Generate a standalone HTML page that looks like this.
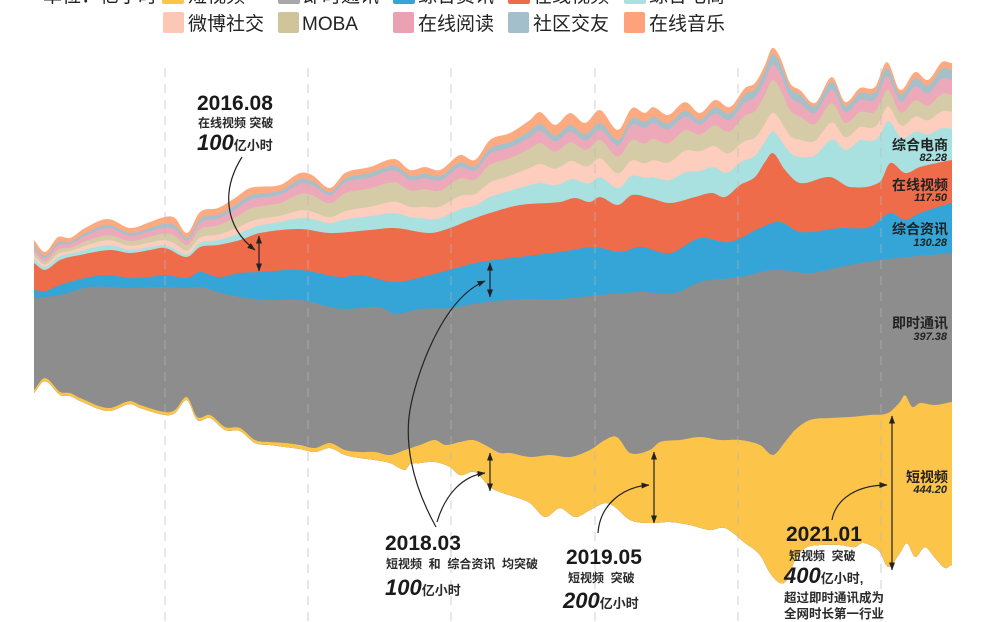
<!DOCTYPE html>
<html>
<head>
<meta charset="utf-8">
<style>
html,body{margin:0;padding:0;background:#fff;}
body{width:995px;height:622px;overflow:hidden;position:relative;}
svg{position:absolute;left:0;top:0;}
text{font-family:"Liberation Sans","Noto Sans CJK SC",sans-serif;fill:#1a1a1a;}
.lg{font-size:19px;fill:#222;}
.dt{font-size:21px;font-weight:bold;}
.sm{font-size:12px;font-weight:bold;fill:#2a2a2a;}
.bg{font-size:22px;font-weight:bold;font-style:italic;}
.un{font-size:13px;font-weight:bold;fill:#2a2a2a;}
.rl{font-size:14px;font-weight:bold;fill:#222;}
.rn{font-size:11px;font-weight:bold;font-style:italic;fill:#222;}
</style>
</head>
<body>
<svg width="995" height="622" viewBox="0 0 995 622" xmlns="http://www.w3.org/2000/svg">
<defs>
<marker id="ah" viewBox="0 0 8 6" refX="7.5" refY="3" markerWidth="8" markerHeight="6" markerUnits="userSpaceOnUse" orient="auto-start-reverse">
<path d="M0,0 L8,3 L0,6 z" fill="#222"/>
</marker>
</defs>

<!-- legend row 1 (cut off) -->
<text class="lg" x="43" y="2">单位：亿小时</text>
<rect x="162" y="-17" width="22" height="21" rx="2" fill="#fcc54a"/>
<text class="lg" x="188" y="2">短视频</text>
<rect x="278" y="-17" width="22" height="21" rx="2" fill="#a8a8a8"/>
<text class="lg" x="303" y="2">即时通讯</text>
<rect x="393" y="-17" width="22" height="21" rx="2" fill="#35a5d7"/>
<text class="lg" x="418" y="2">综合资讯</text>
<rect x="508" y="-17" width="22" height="21" rx="2" fill="#ee6c4a"/>
<text class="lg" x="533" y="2">在线视频</text>
<rect x="624" y="-17" width="22" height="21" rx="2" fill="#a9e1e1"/>
<text class="lg" x="649" y="2">综合电商</text>

<!-- legend row 2 -->
<rect x="163" y="12" width="21" height="21" rx="2" fill="#fdc7b6"/>
<text class="lg" x="188" y="30">微博社交</text>
<rect x="278" y="12" width="21" height="21" rx="2" fill="#cfc49a"/>
<text class="lg" x="302" y="30">MOBA</text>
<rect x="393" y="12" width="21" height="21" rx="2" fill="#eaa1b2"/>
<text class="lg" x="418" y="30">在线阅读</text>
<rect x="508" y="12" width="21" height="21" rx="2" fill="#a2bfcb"/>
<text class="lg" x="533" y="30">社区交友</text>
<rect x="624" y="12" width="21" height="21" rx="2" fill="#fda27a"/>
<text class="lg" x="649" y="30">在线音乐</text>

<g id="layers"></g>

<!-- dashed guides -->
<g stroke="#b8b8b8" stroke-opacity="0.5" stroke-width="1.3" stroke-dasharray="9,7">
<line x1="165" y1="68" x2="165" y2="622"/>
<line x1="308" y1="68" x2="308" y2="622"/>
<line x1="451" y1="68" x2="451" y2="622"/>
<line x1="595" y1="68" x2="595" y2="622"/>
<line x1="738" y1="68" x2="738" y2="622"/>
<line x1="881" y1="68" x2="881" y2="622"/>
</g>

<!-- arrows -->
<g stroke="#222" stroke-width="1.2" fill="none">
<line x1="259" y1="236" x2="259" y2="271" marker-start="url(#ah)" marker-end="url(#ah)"/>
<line x1="490" y1="263" x2="490" y2="297" marker-start="url(#ah)" marker-end="url(#ah)"/>
<line x1="490" y1="453" x2="490" y2="491" marker-start="url(#ah)" marker-end="url(#ah)"/>
<line x1="654" y1="452" x2="654" y2="523" marker-start="url(#ah)" marker-end="url(#ah)"/>
<line x1="892" y1="416" x2="892" y2="570" marker-start="url(#ah)" marker-end="url(#ah)"/>
<path d="M242,157 C220,192 226,228 255,250" marker-end="url(#ah)"/>
<path d="M436,527 C410,480 405,440 410,410 C415,380 440,300 485,281" marker-end="url(#ah)"/>
<path d="M437,522 C445,495 462,476 485,473" marker-end="url(#ah)"/>
<path d="M598,533 C600,505 622,487 649,485" marker-end="url(#ah)"/>
<path d="M832,520 C836,498 858,485 887,485" marker-end="url(#ah)"/>
</g>

<!-- annotations -->
<text class="dt" x="197" y="110">2016.08</text>
<text class="sm" x="198" y="127">在线视频 突破</text>
<text x="197" y="150"><tspan class="bg">100</tspan><tspan class="un">亿小时</tspan></text>

<text class="dt" x="385" y="550">2018.03</text>
<text class="sm" x="386" y="568">短视频&#160;&#160;和&#160;&#160;综合资讯&#160;&#160;均突破</text>
<text x="385" y="595"><tspan class="bg">100</tspan><tspan class="un">亿小时</tspan></text>

<text class="dt" x="566" y="564">2019.05</text>
<text class="sm" x="568" y="582">短视频&#160;&#160;突破</text>
<text x="563" y="608"><tspan class="bg">200</tspan><tspan class="un">亿小时</tspan></text>

<text class="dt" x="786" y="541">2021.01</text>
<text class="sm" x="789" y="560">短视频&#160;&#160;突破</text>
<text x="784" y="583"><tspan class="bg">400</tspan><tspan class="un">亿小时,</tspan></text>
<text class="sm" x="784" y="602" style="font-size:12.5px">超过即时通讯成为</text>
<text class="sm" x="784" y="618" style="font-size:12.5px">全网时长第一行业</text>

<!-- right labels -->
<g text-anchor="end">
<text class="rl" x="948" y="150">综合电商</text>
<text class="rn" x="947" y="161">82.28</text>
<text class="rl" x="948" y="190">在线视频</text>
<text class="rn" x="947" y="201">117.50</text>
<text class="rl" x="948" y="234">综合资讯</text>
<text class="rn" x="947" y="246">130.28</text>
<text class="rl" x="948" y="328">即时通讯</text>
<text class="rn" x="947" y="340">397.38</text>
<text class="rl" x="948" y="482">短视频</text>
<text class="rn" x="947" y="493">444.20</text>
</g>
</svg>

<script>
(function(){
var TOP=[[34,240],[45,252],[58,237],[70,238],[85,228],[108,219],[130,228],[150,222],[165,217],[175,218],[187,233],[200,212],[218,208],[235,198],[250,188],[280,185],[300,173],[312,175],[330,188],[345,173],[370,167],[395,159],[410,170],[425,167],[440,170],[460,155],[475,160],[490,140],[510,133],[530,120],[540,112],[555,125],[570,113],[585,123],[600,110],[618,130],[632,108],[645,113],[653,107],[668,115],[685,102],[700,113],[715,100],[730,107],[745,88],[755,83],[765,65],[772,48],[780,57],[790,83],[800,90],[815,103],[832,77],[845,102],[860,88],[875,87],[887,62],[900,90],[915,72],[928,80],[942,62],[951,63]];
var RED=[[34,263],[45,270],[60,260],[80,255],[110,250],[130,253],[150,250],[165,248],[187,257],[200,247],[218,245],[240,240],[260,233],[300,229],[330,233],[370,230],[395,228],[430,233],[450,228],[470,220],[490,213],[520,205],[560,202],[575,198],[590,202],[600,197],[618,205],[632,195],[650,198],[670,203],[695,197],[712,193],[725,197],[740,185],[755,177],[765,162],[773,153],[785,170],[800,183],[830,177],[850,187],[880,182],[890,163],[905,173],[920,167],[951,160]];
var BLUE=[[34,290],[45,291],[60,285],[85,278],[108,275],[130,278],[150,277],[165,275],[187,278],[200,272],[218,277],[240,273],[260,272],[300,270],[340,277],[360,275],[395,282],[430,275],[460,267],[480,262],[520,257],[560,252],[595,247],[620,252],[640,247],[670,253],[700,238],[730,242],[760,228],[780,222],[800,232],[840,228],[870,227],[890,213],[905,220],[920,213],[951,203]];
var GT=[[34,298],[60,295],[90,287],[130,288],[165,287],[187,288],[200,287],[218,292],[240,297],[270,300],[300,300],[330,307],[345,309],[380,307],[395,314],[420,309],[450,308],[480,303],[520,299],[560,299],[600,295],[640,292],[675,293],[700,282],[740,277],[775,270],[810,273],[840,267],[880,260],[951,253]];
var GB=[[34,390],[45,378],[60,392],[70,393],[80,398],[108,408],[130,401],[140,405],[165,412],[175,410],[187,397],[197,417],[210,415],[225,427],[240,428],[255,440],[270,442],[285,443],[300,445],[315,448],[330,443],[345,450],[360,452],[375,452],[390,455],[405,450],[420,445],[435,440],[445,445],[460,442],[473,440],[485,445],[500,453],[510,453],[530,457],[550,455],[570,457],[590,450],[605,440],[617,437],[630,453],[650,450],[660,442],[680,440],[700,437],[720,440],[740,440],[760,445],[773,455],[785,442],[795,430],[810,420],[830,418],[850,417],[870,415],[888,413],[900,402],[905,395],[912,407],[920,403],[935,405],[951,402]];
var YB=[[34,393],[45,381],[60,395],[70,396],[80,401],[108,411],[130,404],[140,408],[165,415],[175,413],[187,400],[197,420],[210,418],[225,430],[240,431],[255,443],[270,445],[285,447],[300,449],[315,452],[330,448],[345,455],[360,458],[375,460],[390,463],[405,470],[410,464],[420,463],[435,462],[450,467],[460,475],[475,472],[490,487],[500,492],[515,497],[530,503],[545,517],[560,508],[575,517],[590,510],[605,503],[615,507],[630,520],[650,523],[670,522],[690,525],[710,530],[725,528],[745,543],[760,555],[770,573],[780,583],[787,580],[795,560],[805,548],[820,545],[840,545],[855,547],[862,543],[870,545],[880,552],[888,567],[900,553],[907,543],[915,557],[925,547],[935,558],[945,568],[951,565]];
var FR=[[34,[.22,.13,.17,.17,.13,.17]],[108,[.19,.10,.23,.16,.16,.16]],[165,[.22,.125,.19,.22,.16,.09]],[330,[.09,.07,.18,.31,.13,.22]],[450,[.10,.07,.16,.25,.19,.21]],[600,[.15,.08,.115,.21,.22,.23]],[640,[.11,.075,.19,.24,.17,.22]],[700,[.08,.06,.12,.2,.24,.30]],[772,[.06,.10,.15,.31,.18,.20]],[820,[.04,.09,.14,.21,.19,.34]],[860,[.05,.07,.12,.15,.13,.48]],[951,[.07,.10,.155,.175,.175,.32]]];
function ev(p,x){
  var n=p.length;
  if(x<=p[0][0])return p[0][1];
  if(x>=p[n-1][0])return p[n-1][1];
  var i=0;while(i<n-2&&x>p[i+1][0])i++;
  function sl(k){
    if(k<=0)return (p[1][1]-p[0][1])/(p[1][0]-p[0][0]);
    if(k>=n-1)return (p[n-1][1]-p[n-2][1])/(p[n-1][0]-p[n-2][0]);
    return (p[k+1][1]-p[k-1][1])/(p[k+1][0]-p[k-1][0]);
  }
  var x0=p[i][0],y0=p[i][1],x1=p[i+1][0],y1=p[i+1][1];
  var m0=sl(i),m1=sl(i+1),h=x1-x0,t=(x-x0)/h,t2=t*t,t3=t2*t;
  return (2*t3-3*t2+1)*y0+(t3-2*t2+t)*h*m0+(-2*t3+3*t2)*y1+(t3-t2)*h*m1;
}
function fr(x){
  var n=FR.length;
  if(x<=FR[0][0])return FR[0][1].slice();
  if(x>=FR[n-1][0])return FR[n-1][1].slice();
  var i=0;while(i<n-2&&x>FR[i+1][0])i++;
  var a=FR[i],b=FR[i+1],t=(x-a[0])/(b[0]-a[0]);
  var r=[],s=0;
  for(var k=0;k<6;k++){r.push(a[1][k]*(1-t)+b[1][k]*t);s+=r[k];}
  for(k=0;k<6;k++)r[k]/=s;
  return r;
}
var xs=[];for(var x=34;x<951;x+=2)xs.push(x);xs.push(952);
var B=[];for(var k=0;k<10;k++)B.push([]);
var yb=[];
for(var j=0;j<xs.length;j++){
  var xx=Math.min(xs[j],951);
  var top=ev(TOP,xx),red=ev(RED,xx),blue=ev(BLUE,xx),gt=ev(GT,xx),gb=ev(GB,xx),y=ev(YB,xx);
  var T=Math.max(0,red-top),f=fr(xx),c=top;
  B[0].push(top);
  for(k=0;k<5;k++){c+=T*f[k];B[k+1].push(c);}
  B[6].push(red);B[7].push(blue);B[8].push(gt);B[9].push(gb);
  yb.push(y);
}
var cols=["#fdaa80","#a6c0ca","#eda9ba","#d5cba6","#fdcdbd","#a9e1e1","#ee6c4a","#35a5d7","#8d8d8d","#fcc54a"];
var g=document.getElementById("layers"),ns="http://www.w3.org/2000/svg";
var bottomPath="";
for(j=xs.length-1;j>=0;j--)bottomPath+="L"+xs[j]+","+yb[j].toFixed(1);
for(k=0;k<10;k++){
  var d="M"+xs[0]+","+B[k][0].toFixed(1);
  for(j=1;j<xs.length;j++)d+="L"+xs[j]+","+B[k][j].toFixed(1);
  d+=bottomPath+"Z";
  var p=document.createElementNS(ns,"path");
  p.setAttribute("d",d);p.setAttribute("fill",cols[k]);
  g.appendChild(p);
}
})();
</script>
</body>
</html>
